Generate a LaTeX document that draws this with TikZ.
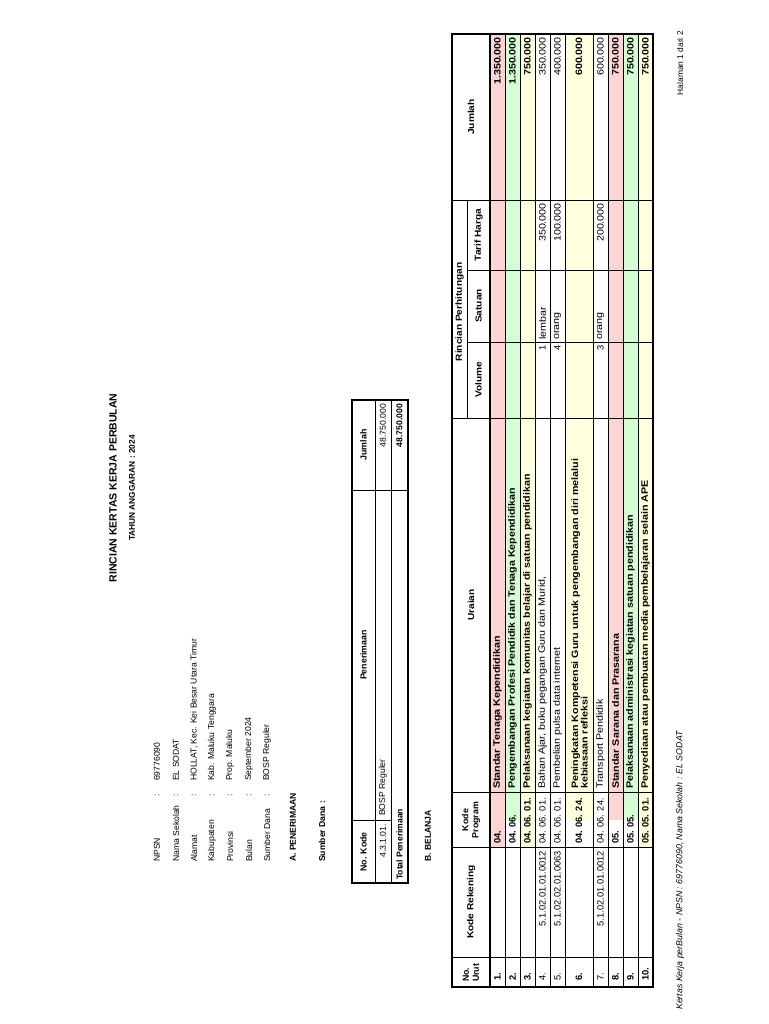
\documentclass[tikz,border=0pt]{standalone}
\usepackage{fontspec}
\setmainfont{Liberation Sans}
\newcommand\sx[1]{\scalebox{1.15}[1]{#1}}
\definecolor{rpink}{RGB}{255,212,212}
\definecolor{rgreen}{RGB}{212,255,212}
\definecolor{ryel}{RGB}{255,255,222}
\tikzset{
 t/.style={rotate=90,inner sep=0pt,font=\fontsize{8.6}{10}\selectfont},
 tb/.style={t,font=\fontsize{8.6}{10}\selectfont\bfseries},
 u/.style={rotate=90,inner sep=0pt,font=\fontsize{9.3}{10}\selectfont},
 ub/.style={u,font=\fontsize{9.3}{10}\selectfont\bfseries},
 th/.style={t,font=\fontsize{8.8}{10}\selectfont\bfseries,align=center},
 thin/.style={line width=0.7pt},
 thick/.style={line width=1.1pt},
}
\begin{document}
\begin{tikzpicture}[x=1pt,y=-1pt]
\useasboundingbox (0,0) rectangle (768,1024);
% ---------- title & info ----------
\node[t,font=\fontsize{10.5}{12}\selectfont\bfseries] (title) at (113,488) {RINCIAN KERTAS KERJA PERBULAN};
\node[tb,font=\fontsize{8.3}{10}\selectfont\bfseries] (tahun) at (132,488) {TAHUN ANGGARAN : 2024};
\foreach \xx/\lab/\val [count=\i] in {157/NPSN/69776090,176/Nama Sekolah/EL SODAT,194/Alamat/{HOLLAT, Kec. Kei Besar Utara Timur},212/Kabupaten/Kab. Maluku Tenggara,230/Provinsi/Prop. Maluku,249/Bulan/September 2024,267/Sumber Dana/BOSP Reguler}{
 \node[t,anchor=west] (lab\i) at (\xx,862) {\lab};
 \node[t] (col\i) at (\xx,795) {:};
 \node[t,anchor=west] (val\i) at (\xx,781) {\val};
}
\node[tb,anchor=west] (secA) at (293,862) {A. PENERIMAAN};
\node[tb,anchor=west] (sd) at (322,862) {Sumber Dana :};
% ---------- table A ----------
\draw[thick] (352,400) rectangle (408,883);
\draw[thin] (375,400) -- (375,883) (391,400) -- (391,883);
\draw[thin] (352,820) -- (391,820) (352,490) -- (408,490);
\node[th] (ah1) at (363.5,852) {No. Kode};
\node[th] (ah2) at (363.5,655) {Penerimaan};
\node[th] (ah3) at (363.5,445) {Jumlah};
\node[t,anchor=east] (a1) at (383,824) {4.3.1.01.};
\node[t,anchor=west] (a2) at (383,816) {BOSP Reguler};
\node[t,anchor=east] (a3) at (383,404) {48.750.000};
\node[tb,anchor=west] (a4) at (399.5,880) {Total Penerimaan};
\node[tb,anchor=east] (a5) at (399.5,404) {48.750.000};
% ---------- section B ----------
\node[tb,anchor=west] (secB) at (428,862) {B. BELANJA};
% row fills
\fill[rpink] (490,847) rectangle (505,34);
\fill[rgreen] (505,820) rectangle (520,34);
\fill[ryel] (520,847) rectangle (535,34);
\fill[ryel] (565,820) rectangle (593,34);
\fill[rpink] (608,820) rectangle (623,34);
\fill[rgreen] (623,820) rectangle (638,34);
\fill[ryel] (638,847) rectangle (653,34);
% grid
\foreach \xx in {505,520,535,550,565,593,608,623,638}{\draw[thin] (\xx,34) -- (\xx,987);}
\draw[thick] (490,34) -- (490,987);
\foreach \yy in {957,847,792,418,200}{\draw[thin] (452,\yy) -- (653,\yy);}
\draw[thin] (467,200) -- (467,418);
\foreach \yy in {342,270}{\draw[thin] (467,\yy) -- (653,\yy);}
\draw[thick] (452,34) rectangle (653,987);
% header
\node[th,anchor=west,align=left] (bh1) at (471,982) {No.\\Urut};
\node[th] (bh2) at (471,902) {\sx{Kode Rekening}};
\node[th] (bh3) at (471,820) {Kode\\Program};
\node[th] (bh4) at (471,605) {\sx{Uraian}};
\node[th] (bh5) at (459.5,312) {\sx{Rincian Perhitungan}};
\node[th] (bh6) at (478.5,380) {\sx{Volume}};
\node[th] (bh7) at (478.5,306) {\sx{Satuan}};
\node[th] (bh8) at (478.5,235) {\sx{Tarif Harga}};
\node[th] (bh9) at (471,117) {\sx{Jumlah}};
% rows
\newcommand\rowB[9]{%
 \node[#2,anchor=west] (n#1) at (#1,981) {#3};
 \node[u,anchor=east] (kr#1) at (#1,851) {#4};
 \node[#2,anchor=west] (kp#1) at (#1,844) {#5};
 \node[#2,anchor=west] (u#1) at (#1,789) {\sx{#6}};
 \node[#2,anchor=east] (j#1) at (#1,37) {\sx{#9}};
 \node[u,anchor=east] (v#1) at (#1,345) {#7};
 \node[u,anchor=west] (s#1) at (#1,340) {\sx{#8}};
}
\newcommand\tarif[2]{\node[u,anchor=east] (tf#1) at (#1,203) {\sx{#2}};}
\rowB{497.5}{ub}{1.}{}{04.}{Standar Tenaga Kependidikan}{}{}{1.350.000}
\rowB{512.5}{ub}{2.}{}{04. 06.}{Pengembangan Profesi Pendidik dan Tenaga Kependidikan}{}{}{1.350.000}
\rowB{527.5}{ub}{3.}{}{04. 06. 01.}{Pelaksanaan kegiatan komunitas belajar di satuan pendidikan}{}{}{750.000}
\rowB{542.5}{u}{4.}{5.1.02.01.01.0012}{04. 06. 01.}{Bahan Ajar, buku pegangan Guru dan Murid,}{1}{lembar}{350.000}
\tarif{542.5}{350.000}
\rowB{557.5}{u}{5.}{5.1.02.02.01.0063}{04. 06. 01.}{Pembelian pulsa data internet}{4}{orang}{400.000}
\tarif{557.5}{100.000}
\node[ub,anchor=west] (n579) at (579,981) {6.};
\node[ub,anchor=west] (kp579) at (579,844) {04. 06. 24.};
\node[ub,anchor=west,align=left,font=\fontsize{9.3}{9.6}\selectfont\bfseries] (u579) at (579.5,789) {\sx{Peningkatan Kompetensi Guru untuk pengembangan diri melalui}\\\sx{kebiasaan refleksi}};
\node[ub,anchor=east] (j579) at (579,37) {\sx{600.000}};
\rowB{600.5}{u}{7.}{5.1.02.01.01.0012}{04. 06. 24.}{Transport Pendidik}{3}{orang}{600.000}
\tarif{600.5}{200.000}
\rowB{615.5}{ub}{8.}{}{05.}{Standar Sarana dan Prasarana}{}{}{750.000}
\rowB{630.5}{ub}{9.}{}{05. 05.}{Pelaksanaan administrasi kegiatan satuan pendidikan}{}{}{750.000}
\rowB{645.5}{ub}{10.}{}{05. 05. 01.}{Penyediaan atau pembuatan media pembelajaran selain APE}{}{}{750.000}
% footer
\node[t,anchor=west,font=\fontsize{8.8}{9}\selectfont\itshape] (foot) at (680,1010) {Kertas Kerja perBulan - NPSN : 69776090, Nama Sekolah : EL SODAT};
\node[t,anchor=east,font=\fontsize{8.4}{9}\selectfont] (page) at (680,31) {Halaman 1 dari 2};
\end{tikzpicture}
\end{document}
